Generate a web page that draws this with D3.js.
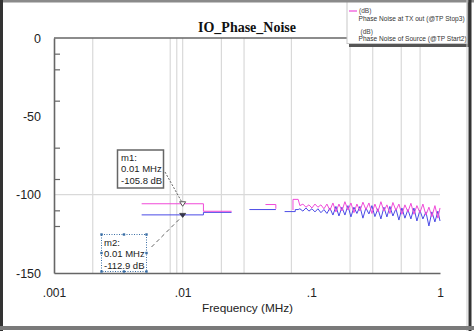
<!DOCTYPE html>
<html><head><meta charset="utf-8">
<script src="https://cdn.jsdelivr.net/npm/d3@7"></script>
<style>body{margin:0;background:#fff}svg{display:block}</style>
</head><body><svg id="c" width="474" height="331"></svg>
<script>
// ---- data ----
const yMajor = [0, -50, -100, -150];
const yMinor = [-10, -20, -40, -70, -90, -110, -120];
const xTicks = [0.001, 0.01, 0.1, 1];
const xTickLabels = [".001", ".01", ".1", "1"];
const xGrid = [0.002, 0.008, 0.009, 0.01, 0.02, 0.03, 0.07, 0.2, 0.3, 0.5, 0.7];
const yGrid = [-100];

// stepped low-frequency part (null = gap)
const txFreq  = [0.0048, 0.0145, 0.0145, 0.024, null, 0.044, 0.053, 0.053, null, 0.072, 0.072, 0.079];
const txDb    = [-105.8, -105.8, -110.6, -110.6, null, -106.3, -106.3, -109.0, null, -109.8, -103.0, -103.0];
const srcFreq = [0.0048, 0.0145, 0.0145, 0.024, null, 0.033, 0.053, null, 0.062, 0.075, 0.075, 0.079];
const srcDb   = [-112.9, -112.9, -111.3, -111.3, null, -109.5, -109.5, null, -110.8, -110.8, -109.5, -109.5];

// noisy high-frequency part
const noiseFreq = [0.0815,0.0860,0.0908,0.0958,0.1011,0.1067,0.1125,0.1187,0.1253,0.1322,0.1395,0.1472,
  0.1553,0.1639,0.1729,0.1824,0.1925,0.2031,0.2143,0.2261,0.2386,0.2517,0.2656,0.2803,0.2957,0.3120,
  0.3292,0.3474,0.3665,0.3867,0.4080,0.4305,0.4543,0.4794,0.5058,0.5337,0.5631,0.5942,0.6270,0.6615,
  0.6980,0.7365,0.7771,0.8200,0.8652,0.9129,0.9632,1.0];
const txNoise = [-107.0,-106.0,-108.0,-106.5,-108.5,-106.0,-108.0,-106.5,-109.0,-106.0,-110.0,-105.3,
  -111.0,-106.0,-110.4,-104.5,-109.8,-105.3,-111.5,-106.0,-110.4,-104.8,-109.5,-105.3,-112.0,-106.0,
  -111.0,-104.5,-110.5,-106.5,-112.0,-105.0,-110.0,-106.0,-112.5,-106.5,-111.0,-105.5,-112.5,-107.0,
  -111.5,-106.0,-113.0,-108.0,-114.0,-107.0,-115.0,-108.5];
const srcNoise = [-109.0,-110.5,-108.5,-110.5,-109.0,-111.0,-109.0,-111.5,-109.5,-112.0,-108.5,-113.0,
  -107.5,-113.6,-108.0,-113.0,-107.0,-114.2,-108.0,-112.0,-107.5,-115.0,-108.5,-112.3,-107.0,-114.0,
  -109.0,-115.5,-108.0,-114.2,-107.5,-113.6,-109.0,-116.2,-108.5,-115.0,-109.5,-115.5,-108.5,-116.8,
  -110.0,-115.5,-111.0,-120.0,-111.0,-117.4,-110.5,-116.8];

const seriesNames = ["Phase Noise at TX out (@TP Stop3)", "Phase Noise of Source (@TP Start2)"];
const seriesColors = ["#f04ad8", "#4b4be6"];
const markerNames = ["m1", "m2"];
const markerFreq = [0.01, 0.01];
const markerDb = [-105.8, -112.9];

// ---- drawing ----
const SANS = "Arial, 'Liberation Sans', sans-serif";
const svg = d3.select("#c");
const x = d3.scaleLog().domain([0.001, 1]).range([54, 440]);
const y = d3.scaleLinear().domain([-150, 0]).range([273, 38]);

// grid
svg.append("g").selectAll("line").data(xGrid).join("line")
  .attr("x1", d => x(d)).attr("x2", d => x(d)).attr("y1", y(0)).attr("y2", y(-150))
  .attr("stroke", "#d9d9d9").attr("stroke-width", 1.2);
svg.append("g").selectAll("line").data(yGrid).join("line")
  .attr("x1", x(0.001)).attr("x2", x(1)).attr("y1", d => y(d)).attr("y2", d => y(d))
  .attr("stroke", "#d9d9d9").attr("stroke-width", 1.2);

// top frame line
svg.append("line").attr("x1", x(0.001)).attr("x2", 348).attr("y1", y(0)).attr("y2", y(0))
  .attr("stroke", "#666").attr("stroke-width", 1.3);

// y axis
const yAx = svg.append("g").attr("transform", `translate(${x(0.001)},0)`)
  .call(d3.axisLeft(y).tickValues(yMajor).tickSize(0).tickPadding(13).tickFormat(d => d));
yAx.select(".domain").attr("stroke", "#666").attr("stroke-width", 1.6);
yAx.selectAll("text").style("font-family", SANS).style("font-size", "12.5px").attr("fill", "#222");
const yMin = svg.append("g").attr("transform", `translate(${x(0.001)},0)`)
  .call(d3.axisLeft(y).tickValues(yMinor).tickSize(-6).tickFormat(""));
yMin.select(".domain").remove();
yMin.selectAll("line").attr("stroke", "#666").attr("stroke-width", 1.2);

// x axis
const xAx = svg.append("g").attr("transform", `translate(0,${y(-150)})`)
  .call(d3.axisBottom(x).tickValues(xTicks).tickSize(0).tickPadding(15)
    .tickFormat((d, i) => xTickLabels[i]));
xAx.select(".domain").attr("stroke", "#666").attr("stroke-width", 1.6);
xAx.selectAll("text").style("font-family", SANS).style("font-size", "12px").attr("fill", "#222");

svg.append("text").attr("x", 247.5).attr("y", 311.5).attr("text-anchor", "middle")
  .style("font-family", SANS).style("font-size", "11.8px").attr("fill", "#222").text("Frequency (MHz)");

svg.append("text").attr("x", 247).attr("y", 31.7).attr("text-anchor", "middle")
  .style("font-family", "'Liberation Serif','Times New Roman',serif").style("font-weight", "bold")
  .style("font-size", "14px").attr("fill", "#111").text("IO_Phase_Noise");

// series
const txPts = txFreq.map((f, i) => ({f, v: txDb[i]}))
  .concat(noiseFreq.map((f, i) => ({f, v: txNoise[i]})));
const srcPts = srcFreq.map((f, i) => ({f, v: srcDb[i]}))
  .concat(noiseFreq.map((f, i) => ({f, v: srcNoise[i]})));
const line = d3.line().defined(d => d.f != null && d.v != null).x(d => x(d.f)).y(d => y(d.v));
svg.append("path").datum(srcPts).attr("d", line).attr("fill", "none")
  .attr("stroke", seriesColors[1]).attr("stroke-width", 1);
svg.append("path").datum(txPts).attr("d", line).attr("fill", "none")
  .attr("stroke", seriesColors[0]).attr("stroke-width", 1);

// markers
const m1x = x(markerFreq[0]), m1y = y(markerDb[0]);
const m2x = x(markerFreq[1]), m2y = y(markerDb[1]);
svg.append("path").attr("d", `M${m1x-3},${m1y-2}L${m1x+3},${m1y-2}L${m1x},${m1y+2.5}Z`)
  .attr("fill", "#fff").attr("stroke", "#444").attr("stroke-width", 0.9);
svg.append("path").attr("d", `M${m2x-3},${m2y-1.5}L${m2x+3},${m2y-1.5}L${m2x},${m2y+2.5}Z`)
  .attr("fill", "#335").attr("stroke", "#333").attr("stroke-width", 0.8);

// m1 callout
svg.append("line").attr("x1", 165).attr("y1", 172).attr("x2", m1x - 1).attr("y2", m1y - 2)
  .attr("stroke", "#555").attr("stroke-width", 0.9).attr("stroke-dasharray", "2,1.5");
svg.append("rect").attr("x", 117.5).attr("y", 150).attr("width", 46).attr("height", 38)
  .attr("fill", "#fff").attr("stroke", "#666").attr("stroke-width", 1.5);
[markerNames[0] + ":", markerFreq[0] + " MHz", markerDb[0] + " dB"].forEach((t, i) =>
  svg.append("text").attr("x", 121).attr("y", 160.5 + i * 11.5).style("font-family", SANS)
    .style("font-size", "9.5px").attr("fill", "#222").text(t));

// m2 callout
svg.append("line").attr("x1", 151.5).attr("y1", 247).attr("x2", m2x - 2).attr("y2", m2y + 3)
  .attr("stroke", "#555").attr("stroke-width", 0.9).attr("stroke-dasharray", "4,3");
svg.append("rect").attr("x", 101.5).attr("y", 234.5).attr("width", 45).attr("height", 37)
  .attr("fill", "#fff").attr("stroke", "#3a6ea5").attr("stroke-width", 1).attr("stroke-dasharray", "1,1.5");
[[101.5,234.5],[124,234.5],[146.5,234.5],[101.5,253],[146.5,253],[101.5,271.5],[124,271.5],[146.5,271.5]]
  .forEach(p => svg.append("rect").attr("x", p[0]-1.2).attr("y", p[1]-1.2).attr("width", 2.4).attr("height", 2.4)
    .attr("fill", "#3a6ea5"));
[markerNames[1] + ":", markerFreq[1] + " MHz", markerDb[1] + " dB"].forEach((t, i) =>
  svg.append("text").attr("x", 104).attr("y", 245.5 + i * 11.5).style("font-family", SANS)
    .style("font-size", "9.5px").attr("fill", "#222").text(t));

// legend
const lg = svg.append("g");
lg.append("rect").attr("x", 349).attr("y", 1).attr("width", 122).attr("height", 46).attr("fill", "#555");
lg.append("rect").attr("x", 347).attr("y", -1).attr("width", 120).attr("height", 44.5)
  .attr("fill", "#fff").attr("stroke", "#c8c8c8").attr("stroke-width", 1);
lg.append("line").attr("x1", 349).attr("x2", 357).attr("y1", 11).attr("y2", 11)
  .attr("stroke", seriesColors[0]).attr("stroke-width", 1.2);
function lgText(xp, yp, t, fill) {
  lg.append("text").attr("x", xp).attr("y", yp).style("font-family", SANS).style("font-size", "6.6px")
    .attr("fill", fill).text(t);
}
lgText(359, 13, "(dB)", "#444");
lgText(358.5, 20.7, seriesNames[0], "#333");
lgText(360.5, 34.3, "(dB)", "#444");
lgText(358.5, 41, seriesNames[1], "#333");

// window frame
svg.append("rect").attr("x", 0).attr("y", 0).attr("width", 474).attr("height", 2.5).attr("fill", "#8a8a8a");
svg.append("rect").attr("x", 0).attr("y", 0).attr("width", 3).attr("height", 331).attr("fill", "#333");
svg.append("line").attr("x1", 467).attr("x2", 467).attr("y1", 0).attr("y2", 331).attr("stroke", "#ccc");
svg.append("rect").attr("x", 468.5).attr("y", 0).attr("width", 3).attr("height", 331).attr("fill", "#333");
svg.append("rect").attr("x", 0).attr("y", 326).attr("width", 474).attr("height", 4).attr("fill", "#7a7a7a");
</script></body></html>
